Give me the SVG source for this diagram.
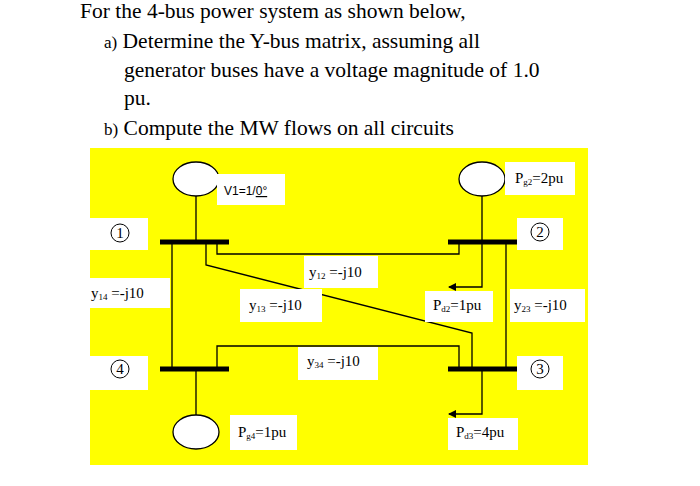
<svg xmlns="http://www.w3.org/2000/svg" width="700" height="486" viewBox="0 0 700 486">
<style>
.t{font-family:"Liberation Serif",serif;font-size:21.5px;fill:#000}
.l{font-family:"Liberation Serif",serif;font-size:15px;fill:#000}
.w{fill:#fff}
.bus{stroke:#000;stroke-width:5}
.ln{stroke:#000;stroke-width:1.3;fill:none}
.g{fill:#fff;stroke:#000;stroke-width:1.3}
</style>
<defs><marker id="a" markerWidth="8" markerHeight="8" refX="7" refY="4" orient="auto" markerUnits="userSpaceOnUse"><path d="M0,0 L8,4 L0,8 z" fill="#000"/></marker></defs>
<rect width="700" height="486" fill="#fff"/>
<text class="t" x="80" y="18">For the 4-bus power system as shown below,</text>
<text class="t" x="104" y="48"><tspan font-size="17">a)</tspan> Determine the Y-bus matrix, assuming all</text>
<text class="t" x="124" y="77">generator buses have a voltage magnitude of 1.0</text>
<text class="t" x="124" y="105">pu.</text>
<text class="t" x="104" y="135"><tspan font-size="17">b)</tspan> Compute the MW flows on all circuits</text>
<rect x="90" y="148" width="498" height="317" fill="#ffff00"/>
<g id="connectors">
<path class="ln" d="M196,196 V242 M482,196 V242 M196,369 V415"/>
<path class="ln" d="M217,242 V254 H459 V242"/>
<path class="ln" d="M206,242 V265 L472,333 V369"/>
<path class="ln" d="M172,242 V369"/>
<path class="ln" d="M506,242 V369"/>
<path class="ln" d="M217,369 V346 H459 V369"/>
<path class="ln" d="M482,242 V287 H449" marker-end="url(#a)" stroke-width="2"/>
<path class="ln" d="M482,369 V414 H449" marker-end="url(#a)" stroke-width="2"/>
</g>
<g id="bus1"><line class="bus" x1="160" y1="242" x2="229" y2="242"/><rect class="w" x="90" y="218" width="58" height="32"/><circle cx="120" cy="233" r="9" fill="none" stroke="#000"/><text class="l" x="120" y="238" text-anchor="middle" font-size="12">1</text></g>
<g id="bus2"><line class="bus" x1="448" y1="242" x2="517" y2="242"/><rect class="w" x="517" y="218" width="46" height="32"/><circle cx="540" cy="232" r="9" fill="none" stroke="#000"/><text class="l" x="540" y="237" text-anchor="middle" font-size="12">2</text></g>
<g id="bus3"><line class="bus" x1="448" y1="369" x2="517" y2="369"/><rect class="w" x="517" y="356" width="46" height="34"/><circle cx="540" cy="369" r="9" fill="none" stroke="#000"/><text class="l" x="540" y="374" text-anchor="middle" font-size="12">3</text></g>
<g id="bus4"><line class="bus" x1="160" y1="369" x2="229" y2="369"/><rect class="w" x="90" y="356" width="58" height="34"/><circle cx="120" cy="369" r="9" fill="none" stroke="#000"/><text class="l" x="120" y="374" text-anchor="middle" font-size="12">4</text></g>
<g id="gen1"><ellipse class="g" cx="196" cy="179" rx="23" ry="17"/><rect class="w" x="217" y="174" width="68" height="31"/><text x="224" y="195" font-family="Liberation Sans,sans-serif" font-size="12">V1=1/<tspan text-decoration="underline">0°</tspan></text></g>
<g id="gen2"><ellipse class="g" cx="482" cy="179" rx="23" ry="17"/><rect class="w" x="505" y="162" width="70" height="33"/><text class="l" x="515" y="183">P<tspan font-size="9" dy="2">g2</tspan><tspan dy="-2">=2pu</tspan></text></g>
<g id="gen4"><ellipse class="g" cx="196" cy="432" rx="23" ry="17"/><rect class="w" x="230" y="415" width="67" height="35"/><text class="l" x="238" y="437">P<tspan font-size="9" dy="2">g4</tspan><tspan dy="-2">=1pu</tspan></text></g>
<g id="labels">
<rect class="w" x="304" y="256" width="74" height="32"/><text class="l" x="309" y="277">y<tspan font-size="9" dy="2">12</tspan><tspan dy="-2"> =-j10</tspan></text>
<rect class="w" x="240" y="289" width="82" height="33"/><text class="l" x="249" y="310">y<tspan font-size="9" dy="2">13</tspan><tspan dy="-2"> =-j10</tspan></text>
<rect class="w" x="90" y="278" width="80" height="30"/><text class="l" x="91" y="298">y<tspan font-size="9" dy="2">14</tspan><tspan dy="-2"> =-j10</tspan></text>
<rect class="w" x="425" y="291" width="68" height="31"/><text class="l" x="433" y="310">P<tspan font-size="9" dy="2">d2</tspan><tspan dy="-2">=1pu</tspan></text>
<rect class="w" x="510" y="289" width="75" height="33"/><text class="l" x="514" y="310">y<tspan font-size="9" dy="2">23</tspan><tspan dy="-2"> =-j10</tspan></text>
<rect class="w" x="298" y="347" width="80" height="33"/><text class="l" x="307" y="366">y<tspan font-size="9" dy="2">34</tspan><tspan dy="-2"> =-j10</tspan></text>
<rect class="w" x="448" y="418" width="70" height="32"/><text class="l" x="456" y="437">P<tspan font-size="9" dy="2">d3</tspan><tspan dy="-2">=4pu</tspan></text>
</g>
</svg>
